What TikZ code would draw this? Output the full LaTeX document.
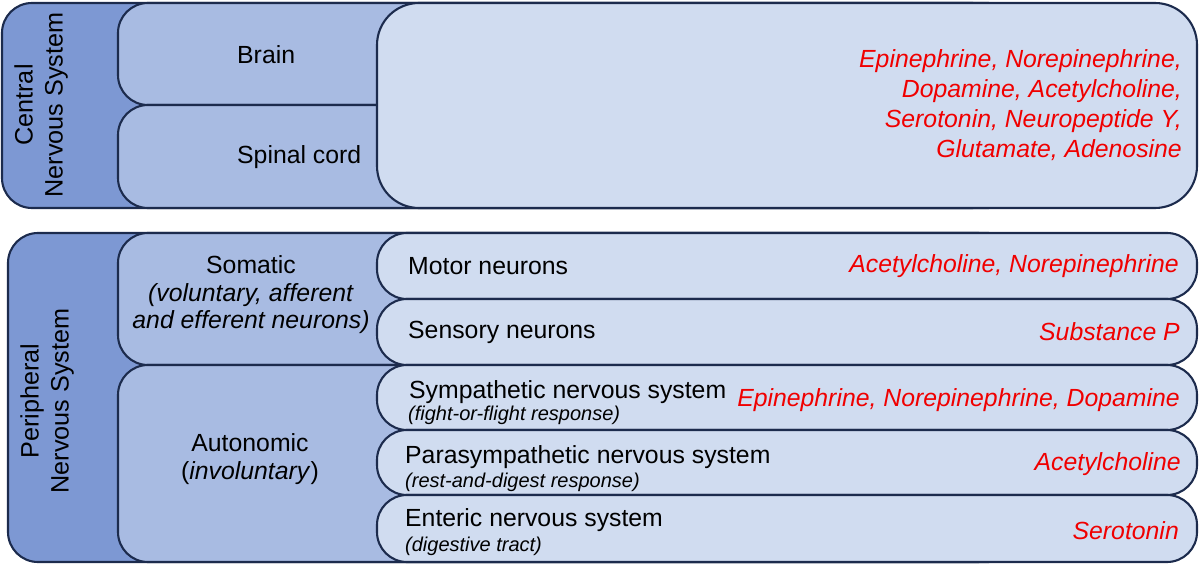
\documentclass[tikz,border=0pt]{standalone}
\usepackage{fontspec}
\setmainfont{Liberation Sans}
\definecolor{outerc}{HTML}{7D98D3}
\definecolor{midc}{HTML}{A8BBE2}
\definecolor{innerc}{HTML}{D0DCF0}
\definecolor{borderc}{HTML}{1C2B4D}
\definecolor{redc}{HTML}{F00000}
\tikzset{
  box/.style={draw=borderc, line width=2.1bp, anchor=north west, inner sep=0pt, outer sep=0pt},
  outerbox/.style={box, fill=outerc, rounded corners=30bp},
  midbox/.style={box, fill=midc, rounded corners=30bp},
  innerbox/.style={box, fill=innerc, rounded corners=30bp},
  maintxt/.style={inner sep=0pt, font=\fontsize{24.8bp}{27.5bp}\selectfont},
  sidetxt/.style={inner sep=0pt, rotate=90, align=center, font=\fontsize{25.2bp}{30bp}\selectfont},
  subtxt/.style={inner sep=0pt, font=\fontsize{20bp}{23bp}\selectfont\itshape},
  redtxt/.style={inner sep=0pt, text=redc, font=\fontsize{24.8bp}{30bp}\selectfont\itshape, anchor=east, align=right},
}
\begin{document}
\begin{tikzpicture}[x=1bp,y=-1bp]
\useasboundingbox (0,0) rectangle (1200,564);
% ---- Central nervous system
\node[outerbox, minimum width=1000bp, minimum height=205bp] (cns) at (2,3) {};
\node[midbox, minimum width=900bp, minimum height=102bp] (brain) at (118,3) {};
\node[midbox, minimum width=900bp, minimum height=103bp] (spinal) at (118,105) {};
\node[innerbox, rounded corners=42bp, minimum width=820bp, minimum height=205bp] (cnsnt) at (377,3) {};
\node[sidetxt] (cnslbl) at (41,105) {Central\\Nervous System};
\node[maintxt, anchor=west] (brainlbl) at (237,55) {Brain};
\node[maintxt, anchor=west] (spinallbl) at (237,157) {Spinal cord};
\node[redtxt] (cnsred) at (1182,105) {Epinephrine, Norepinephrine,\\Dopamine, Acetylcholine,\\Serotonin, Neuropeptide Y,\\Glutamate, Adenosine};
% ---- Peripheral nervous system
\node[outerbox, minimum width=1000bp, minimum height=329bp] (pns) at (8,233) {};
\node[midbox, minimum width=900bp, minimum height=132bp] (somatic) at (118,233) {};
\node[midbox, minimum width=900bp, minimum height=197bp] (auto) at (118,365) {};
\node[innerbox, minimum width=820bp, minimum height=66bp] (motor) at (377,233) {};
\node[innerbox, minimum width=820bp, minimum height=66bp] (sensory) at (377,299) {};
\node[innerbox, minimum width=820bp, minimum height=65bp] (symp) at (377,365) {};
\node[innerbox, minimum width=820bp, minimum height=65bp] (para) at (377,430) {};
\node[innerbox, minimum width=820bp, minimum height=67bp] (enteric) at (377,495) {};
\node[sidetxt] (pnslbl) at (47,401) {Peripheral\\Nervous System};
\node[maintxt, align=center] (somlbl) at (251,295) {Somatic\\\textit{(voluntary, afferent}\\\textit{and efferent neurons)}};
\node[maintxt, align=center] (autolbl) at (250,459) {Autonomic\\(\textit{involuntary})};
\node[maintxt, anchor=west] (motorlbl) at (408,266) {Motor neurons};
\node[maintxt, anchor=west] (senslbl) at (408,332) {Sensory neurons};
\node[maintxt, anchor=base west] (symplbl) at (409,398) {Sympathetic nervous system};
\node[subtxt, anchor=base west] (sympsub) at (408,420) {(fight-or-flight response)};
\node[maintxt, anchor=base west] (paralbl) at (405,463) {Parasympathetic nervous system};
\node[subtxt, anchor=base west] (parasub) at (405,487) {(rest-and-digest response)};
\node[maintxt, anchor=base west] (entlbl) at (405,526) {Enteric nervous system};
\node[subtxt, anchor=base west] (entsub) at (405,551) {(digestive tract)};
\node[redtxt] (motorred) at (1179,266) {Acetylcholine, Norepinephrine};
\node[redtxt] (sensred) at (1180,332) {Substance P};
\node[redtxt] (sympred) at (1180,400) {Epinephrine, Norepinephrine, Dopamine};
\node[redtxt] (parared) at (1181,464) {Acetylcholine};
\node[redtxt] (entred) at (1179,531) {Serotonin};
\end{tikzpicture}
\end{document}
